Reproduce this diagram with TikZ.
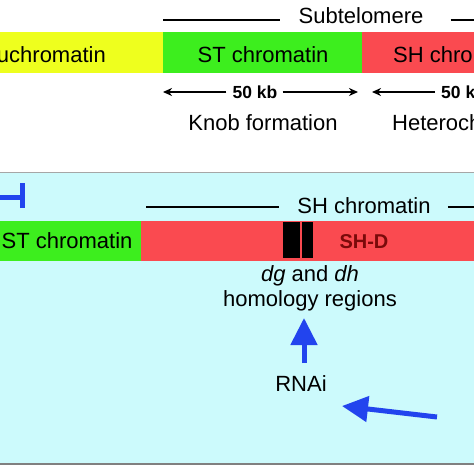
\documentclass[tikz,border=0pt]{standalone}
\usepackage{fontspec}
\setmainfont{Liberation Sans}
\usetikzlibrary{arrows.meta}
\definecolor{cyel}{HTML}{EEFF1E}
\definecolor{cgreen}{HTML}{3DEE1E}
\definecolor{cred}{HTML}{FA4A50}
\definecolor{cbg}{HTML}{CCFAFC}
\definecolor{cblue}{HTML}{2244EE}
\definecolor{cdark}{HTML}{7A0A0A}
\begin{document}
\begin{tikzpicture}[x=1pt,y=-1pt,
  txt/.style={font=\fontsize{22}{26}\selectfont, inner sep=0pt, anchor=base},
  kbtxt/.style={font=\bfseries\fontsize{17.5}{20}\selectfont, inner sep=0pt, anchor=base},
  rule/.style={line width=2.8pt, black},
  kbarrow/.style={line width=2.3pt, -{Stealth[length=9pt,width=8pt]}},
  bigarrow/.style={line width=5pt, cblue, -{Triangle[length=27pt,width=26pt]}}]
\useasboundingbox (0,0) rectangle (474,474);
\clip (0,0) rectangle (474,474);
% lower panel background
\fill[cbg] (0,172) rectangle (474,464);
\draw[gray!70, line width=0.8pt] (0,172) -- (474,172);
\draw[gray, line width=2pt] (0,464) -- (474,464);
% top bar
\fill[cyel] (0,32) rectangle (163,73);
\fill[cgreen] (163,32) rectangle (362,73);
\fill[cred] (362,32) rectangle (474,73);
\node[txt, anchor=base east] (eu) at (106,62) {Euchromatin};
\node[txt] (st1) at (263,62) {ST chromatin};
\node[txt, anchor=base west] (sh1) at (393,62) {SH chromatin};
% subtelomere
\node[txt] (sub) at (361,23) {Subtelomere};
\coordinate (subL) at (163,20);
\coordinate (subR) at (474,20);
\draw[rule] (subL) -- ([xshift=-18pt]sub.west |- subL);
\draw[rule] ([xshift=27pt]sub.east |- subR) -- (subR);
% 50 kb
\node[kbtxt] (kb1) at (255,98) {50 kb};
\coordinate (kb1L) at (163,92);
\coordinate (kb1R) at (358,92);
\draw[kbarrow] ([xshift=-6pt]kb1.west |- kb1L) -- (kb1L);
\draw[kbarrow] ([xshift=5pt]kb1.east |- kb1R) -- (kb1R);
\node[kbtxt, anchor=base west] (kb2) at (441,98) {50 kb};
\coordinate (kb2L) at (372,92);
\draw[kbarrow] ([xshift=-6pt]kb2.west |- kb2L) -- (kb2L);
\node[txt] (knob) at (263,130) {Knob formation};
\node[txt, anchor=base west] (het) at (392,130) {Heterochromatin};
% lower panel
\coordinate (inhA) at (0,197);
\coordinate (inhB) at (22,197);
\draw[cblue, line width=5pt] (inhA) -- (inhB);
\draw[cblue, line width=5pt] ([yshift=-11pt]inhB) -- ([yshift=14pt]inhB);
\node[txt] (shc) at (364,213) {SH chromatin};
\coordinate (shL) at (146,207);
\coordinate (shR) at (474,207);
\draw[rule] (shL) -- ([xshift=-18pt]shc.west |- shL);
\draw[rule] ([xshift=17pt]shc.east |- shR) -- (shR);
\fill[cgreen] (0,221) rectangle (141,261);
\fill[cred] (141,221) rectangle (474,261);
\fill[black] (283,222) rectangle (300,258);
\fill[black] (302,222) rectangle (313,258);
\node[txt] (st2) at (67,248) {ST chromatin};
\node[txt, font=\bfseries\fontsize{20}{24}\selectfont, text=cdark] (shd) at (364,248) {SH-D};
\node[txt] (dg) at (310,281) {\textit{dg} and \textit{dh}};
\node[txt] (hom) at (310,306) {homology regions};
\node[txt] (rnai) at (301,391) {RNAi};
\coordinate (upTip) at (304,318);
\coordinate (upTail) at (304,363);
\draw[bigarrow] (upTail) -- (upTip);
\coordinate (lTip) at (342,406);
\coordinate (lTail) at (437,417);
\draw[bigarrow, -{Triangle[length=26pt,width=25pt]}] (lTail) -- (lTip);
\end{tikzpicture}
\end{document}
